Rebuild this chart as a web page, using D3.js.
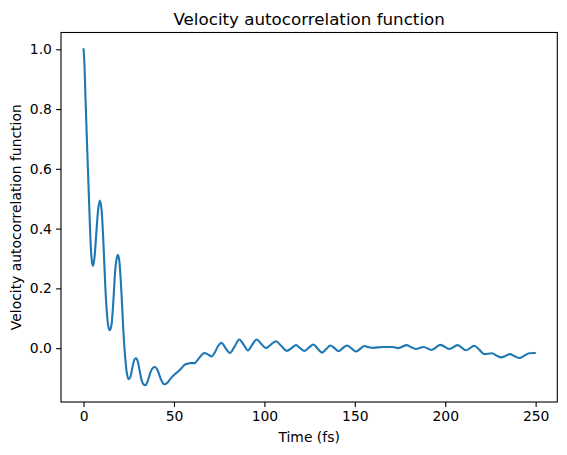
<!DOCTYPE html>
<html>
<head>
<meta charset="utf-8">
<script src="https://cdn.jsdelivr.net/npm/d3@7"></script>
<style>
  body { margin: 0; background: #fff; }
  svg text { font-family: "DejaVu Sans", sans-serif; fill: #000; }
</style>
</head>
<body>
<div id="visualization"></div>
<script>
// time (fs) and VACF values
const timeFs = [
  0, 0.5, 1, 2, 3, 4, 4.6, 5.2, 6, 7, 8, 9, 10, 11, 12, 13, 14, 14.5, 15.5, 16.5,
  17.5, 18.5, 19, 19.8, 21, 22, 23, 24, 25, 26, 27, 28, 29, 30, 31, 32, 33, 34.2,
  35.5, 37, 38.5, 39.5, 41, 42.5, 44, 45, 46.5, 48, 50, 52, 54, 56, 57.5, 59, 61.5,
  63, 65, 66.8, 68.5, 70.8, 72.5, 74.5, 76.3, 78.5, 81, 83.5, 86.1, 88.5, 90.9,
  93.3, 95.7, 98.3, 100.9, 103.6, 106.4, 109.4, 112.5, 115, 117.5, 119.8, 122.1,
  124.6, 127.1, 129.5, 131.9, 134.2, 136.5, 138.8, 141, 143.3, 145.7, 148.2, 150.7,
  153, 155.3, 157.8, 160.2, 165.4, 171, 174, 176.3, 178.6, 181.2, 183.8, 187.9,
  192.5, 197.3, 202.3, 206.9, 211.5, 216.1, 218.8, 221.6, 225.9, 228.4, 230.9,
  233.3, 235.8, 238.4, 241, 243.8, 246.5, 249.5,
];
const vacf = [
  1.0, 0.95, 0.85, 0.67, 0.50, 0.34, 0.29, 0.275, 0.30, 0.38, 0.46, 0.494, 0.46, 0.35, 0.21, 0.11, 0.065, 0.06, 0.08, 0.16,
  0.26, 0.305, 0.312, 0.29, 0.18, 0.06, -0.03, -0.085, -0.104, -0.095, -0.065, -0.04, -0.034, -0.045, -0.075, -0.105, -0.12, -0.124,
  -0.11, -0.08, -0.065, -0.063, -0.075, -0.1, -0.118, -0.121, -0.115, -0.103, -0.09, -0.08, -0.068, -0.055, -0.052, -0.05, -0.05,
  -0.04, -0.025, -0.016, -0.02, -0.028, -0.015, 0.008, 0.018, 0.0, -0.016, 0.005, 0.029, 0.012, -0.008,
  0.012, 0.029, 0.014, 0.0, 0.012, 0.023, 0.007, -0.009, 0.0, 0.01, 0.0, -0.009,
  0.002, 0.012, -0.002, -0.015, -0.003, 0.009, 0.0, -0.01, 0.0, 0.009, -0.001, -0.011,
  -0.002, 0.007, 0.003, 0.001, 0.004, 0.004, 0.0, 0.005, 0.01, 0.003, -0.003, 0.004,
  -0.006, 0.011, -0.003, 0.01, -0.007, 0.008, -0.005, -0.02, -0.017, -0.025, -0.031,
  -0.026, -0.02, -0.027, -0.033, -0.025, -0.017, -0.016,
];
const xTicks = [0, 50, 100, 150, 200, 250];
const yTicks = [0.0, 0.2, 0.4, 0.6, 0.8, 1.0];

const W = 567;
const H = 455;
const margin = { top: 32.5, right: 9.7, bottom: 53, left: 61 };
const width = W - margin.left - margin.right;
const height = H - margin.top - margin.bottom;

const data = timeFs.map((t, i) => ({ t, v: vacf[i] }));

// matplotlib-like 5% padding around the data
function padded(ext) {
  const p = (ext[1] - ext[0]) * 0.05;
  return [ext[0] - p, ext[1] + p];
}

const x = d3.scaleLinear().domain(padded(d3.extent(timeFs))).range([0, width]);
const y = d3.scaleLinear().domain(padded(d3.extent(vacf))).range([height, 0]);

const svg = d3.select('#visualization')
  .append('svg')
  .attr('width', W)
  .attr('height', H);

const g = svg.append('g')
  .attr('transform', `translate(${margin.left},${margin.top})`);

// the curve
g.append('path')
  .datum(data)
  .attr('fill', 'none')
  .attr('stroke', '#1f77b4')
  .attr('stroke-width', 2.1)
  .attr('stroke-linejoin', 'round')
  .attr('stroke-linecap', 'square')
  .attr('d', d3.line()
    .x((d) => x(d.t))
    .y((d) => y(d.v))
    .curve(d3.curveMonotoneX));

// axes
const xAxis = g.append('g')
  .attr('transform', `translate(0,${height})`)
  .call(d3.axisBottom(x).tickValues(xTicks).tickFormat(d3.format('d'))
    .tickSize(4.9).tickPadding(4.2));

const yAxis = g.append('g')
  .call(d3.axisLeft(y).tickValues(yTicks).tickFormat(d3.format('.1f'))
    .tickSize(4.9).tickPadding(4.2));

[xAxis, yAxis].forEach((a) => {
  a.select('.domain').remove();
  a.selectAll('.tick line').attr('stroke', '#000').attr('stroke-width', 1.1);
  a.selectAll('.tick text').style('font-size', '13.9px').attr('fill', '#000');
});

// frame
g.append('rect')
  .attr('width', width)
  .attr('height', height)
  .attr('fill', 'none')
  .attr('stroke', '#000')
  .attr('stroke-width', 1.1);

// title and labels
svg.append('text')
  .attr('x', margin.left + width / 2)
  .attr('y', 25)
  .attr('text-anchor', 'middle')
  .style('font-size', '16.7px')
  .text('Velocity autocorrelation function');

svg.append('text')
  .attr('x', margin.left + width / 2)
  .attr('y', 442)
  .attr('text-anchor', 'middle')
  .style('font-size', '13.9px')
  .text('Time (fs)');

svg.append('text')
  .attr('transform', `translate(20.5,${margin.top + height / 2}) rotate(-90)`)
  .attr('text-anchor', 'middle')
  .style('font-size', '13.9px')
  .text('Velocity autocorrelation function');
</script>
</body>
</html>
